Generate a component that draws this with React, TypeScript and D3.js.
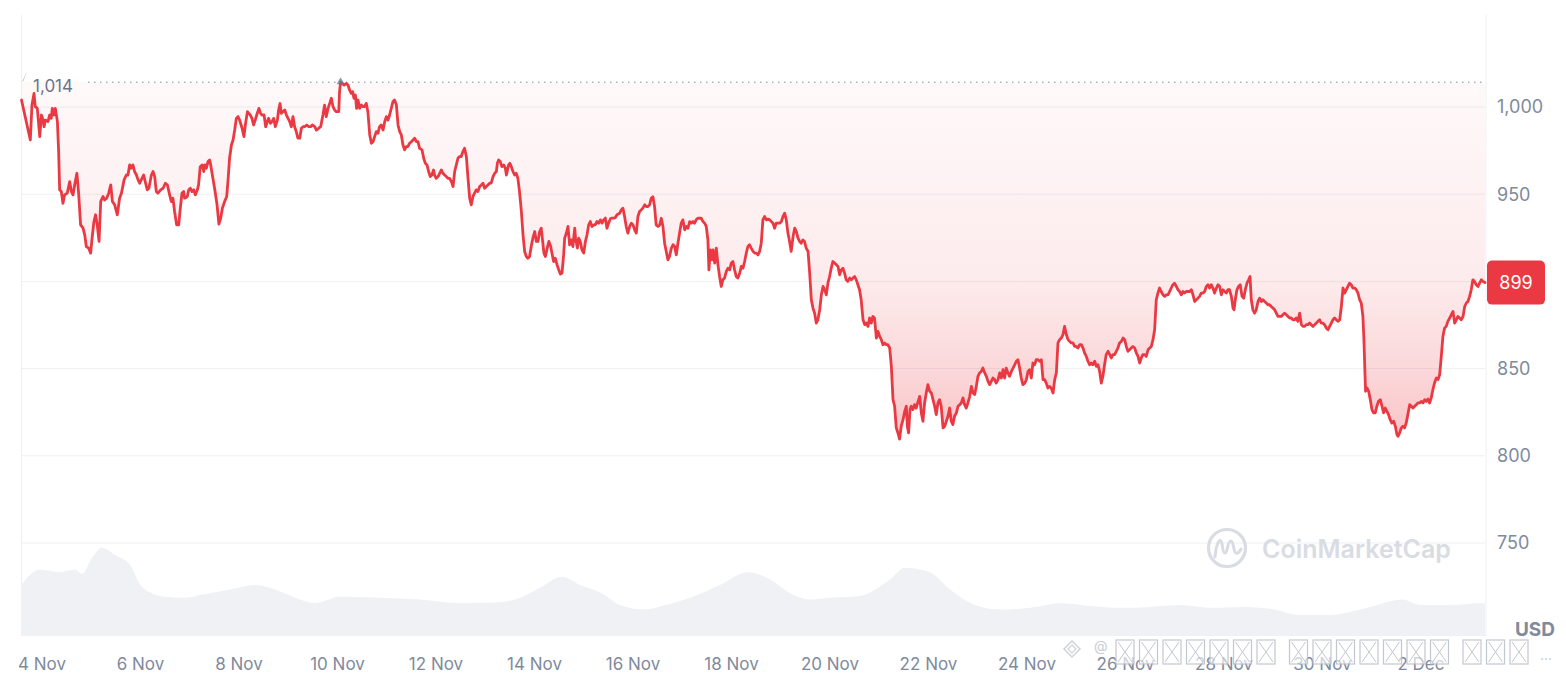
import React from 'react';
import * as d3 from 'd3';

// ---- data (hours since start, price in USD) ----
const START_MS = Date.UTC(2024, 10, 3, 14, 0);
const END_HOURS = 713.2;

const priceHours: number[] = [
  0, 4.3, 5.1, 6.1, 6.7, 7.7, 8.9, 9.7, 10.5, 11.0, 11.6, 12.9, 13.7, 14.5, 15.0, 15.8, 16.5, 17.5, 18.1, 18.6,
  19.4, 20.2, 21.0, 22.3, 23.5, 24.3, 25.1, 25.9, 27.0, 27.9, 28.8, 30.0, 30.8, 31.6, 32.7, 33.7, 34.4, 35.3, 36.1, 36.9,
  37.8, 38.6, 39.7, 40.5, 41.5, 42.5, 43.5, 44.3, 45.4, 46.7, 47.8, 48.7, 50.0, 51.1, 51.9, 52.7, 53.5, 54.3, 55.1, 56.0,
  56.8, 57.6, 58.7, 59.5, 60.3, 61.3, 62.1, 63.3, 64.1, 64.9, 65.7, 66.5, 67.8, 69.0, 70.1, 71.1, 72.2, 73.0, 73.8, 74.6,
  75.6, 76.6, 77.4, 78.2, 79.0, 79.5, 80.8, 81.5, 82.3, 83.1, 83.9, 84.7, 85.7, 86.3, 87.1, 88.0, 88.8, 89.3, 90.1, 90.9,
  91.7, 92.2, 93.0, 94.1, 95.3, 96.2, 97.1, 97.9, 99.0, 100.0, 100.6, 101.4, 102.3, 103.1, 103.9, 104.7, 105.5, 106.3, 107.5, 108.4,
  109.2, 110.1, 110.7, 111.5, 112.3, 113.1, 113.9, 114.9, 115.7, 116.5, 117.2, 118.2, 119.0, 119.8, 120.4, 121.3, 122.1, 122.9, 123.7, 124.7,
  125.3, 126.0, 126.6, 127.4, 128.3, 129.1, 129.9, 130.7, 131.5, 132.3, 133.1, 133.9, 134.7, 135.6, 136.4, 137.2, 138.0, 139.0, 140.0, 140.9,
  141.7, 142.9, 143.7,
  145.8, 146.9, 147.7, 148.5, 149.4, 150.2, 151.0, 151.8, 152.6, 153.4, 154.6, 155.0, 155.5, 156.2, 157.2, 158.3, 159.1, 159.9, 160.7, 161.4,
  162.0, 162.7, 163.3, 164.0, 164.8, 165.6, 166.4, 167.2, 168.0, 168.8, 169.7, 170.5, 171.3, 172.1, 172.9, 173.7, 174.5, 175.3, 176.2, 177.0,
  177.8, 178.6, 179.4, 180.2, 181.0, 181.8, 182.7, 183.5, 184.3, 185.1, 185.9, 186.7, 187.5, 188.3, 189.1, 190.0, 190.8, 191.6, 192.4, 193.2,
  194.0, 195.2, 196.0, 196.8, 197.6, 198.4, 199.2, 200.0, 200.8, 201.3, 202.1, 203.0, 203.8, 204.6, 205.4, 206.2, 207.0, 207.8, 208.6, 209.5,
  210.3, 211.1, 211.9, 212.7, 213.5, 214.3, 215.1, 215.9, 216.8, 217.6, 218.4, 219.2, 220.0, 220.8, 221.6, 222.4, 223.3, 224.1, 224.9, 225.7,
  226.5, 227.3, 228.1, 228.9, 229.8, 230.6, 231.4, 231.9, 232.5, 233.3, 234.1, 235.0, 235.8, 236.3, 236.7, 237.4, 238.0, 238.7, 239.5, 240.3,
  241.1, 241.9, 242.7, 243.6, 244.4, 245.2, 246.0, 246.8, 247.6, 248.4, 249.2, 250.1, 250.9, 251.7, 252.5, 253.3, 253.8, 254.6, 255.3, 256.2,
  257.0, 257.9, 258.5, 259.3, 260.1, 261.0, 261.8, 262.6, 263.4, 264.2, 264.7, 265.5, 266.3, 267.1, 267.9, 268.7, 269.6, 270.0, 270.9, 271.5,
  272.3, 273.1, 274.0, 274.8, 275.6, 276.4, 277.2, 278.0, 278.8, 279.6, 280.4, 281.3, 282.1, 282.9, 283.7, 284.5, 285.3, 286.1, 287.0, 287.7,
  288.6, 289.4, 290.2,
  291.5, 292.3, 293.1, 293.9, 294.7, 295.5, 296.4, 297.2, 298.0, 298.8, 299.6, 300.4, 301.2, 302.0, 302.8, 303.7, 304.5, 305.3, 306.1, 306.9,
  307.7, 308.5, 309.3, 310.2, 311.0, 311.8, 312.6, 313.4, 314.2, 315.0, 315.8, 316.7, 317.5, 318.3, 319.1, 319.9, 320.7, 321.5, 322.3, 323.2,
  324.0, 324.8, 325.6, 326.4, 327.2, 328.0, 328.8, 329.6, 330.5, 331.3, 332.1, 332.9, 333.7, 334.5, 335.0, 335.7, 336.5, 337.0, 337.8, 338.6,
  339.4, 340.2, 341.0, 341.8, 342.6, 343.5, 344.3, 345.1, 345.9, 346.7, 347.5, 348.3, 349.1, 350.0, 350.8, 351.6, 352.4, 353.2, 354.0, 354.8,
  355.6, 356.5, 357.3, 358.1, 358.9, 359.7, 360.5, 361.3, 362.1, 363.0, 363.8, 364.6, 365.4, 366.2, 367.0, 367.8, 368.6, 369.5, 370.3, 371.1,
  371.9, 372.7, 373.5, 374.3, 375.1, 376.0, 376.8, 377.6, 378.4, 379.2, 380.0, 380.8, 381.6, 382.4, 383.3, 384.1, 384.9, 385.7, 386.5, 387.3,
  388.1, 389.0, 389.8, 390.6, 391.4, 392.2, 393.0, 393.8, 394.6, 395.4, 396.3, 397.1, 397.9, 398.7, 399.5, 400.3, 401.1, 401.9, 402.7, 403.6,
  404.4, 405.2, 406.0, 406.8, 407.6, 408.4, 409.2, 410.1, 410.9, 411.7, 412.5, 413.3, 414.1, 414.9, 415.7, 416.6, 417.4, 418.2, 419.0, 419.8,
  420.6, 421.4, 422.2, 423.1, 423.9, 424.7, 425.5, 426.3, 427.1, 427.9, 428.7, 429.6, 430.4, 431.2, 431.7, 432.3, 433.0, 433.6, 434.4, 435.2,
  436.0,
  437.7, 438.5, 439.3, 440.1, 440.9, 441.7, 442.6, 443.4, 444.2, 445.0, 445.8, 446.6, 447.4, 448.2, 449.1, 449.9, 450.7, 451.5, 452.3, 453.1,
  453.9, 454.7, 455.6, 456.4, 457.2, 458.0, 458.8, 459.6, 460.4, 461.2, 462.1, 462.9, 463.7, 464.5, 465.3, 466.1, 466.9, 467.7, 468.5, 469.4,
  470.2, 471.0, 471.8, 472.6, 473.4, 474.2, 475.0, 475.9, 476.7, 477.5, 478.3, 479.1, 479.9, 480.7, 481.5, 482.4, 483.2, 484.0, 484.8, 485.6,
  486.4, 487.2, 488.0, 488.9, 489.7, 490.5, 491.3, 492.1, 492.9, 493.7, 494.5, 495.3, 496.2, 497.0, 497.8, 498.6, 499.4, 500.2, 501.0, 501.8,
  502.7, 503.5, 504.3, 505.1, 505.9, 506.7, 507.5, 508.3, 509.2, 510.0, 510.8, 511.6, 512.4, 513.2, 514.0, 514.8, 515.7, 516.5, 517.3, 518.1,
  518.9, 519.7, 520.5, 521.3, 522.1, 523.0, 523.8, 524.6, 525.4, 526.2, 527.0, 527.8, 528.6, 529.5, 530.3, 531.1, 531.9, 532.7, 533.5, 534.3,
  535.1, 536.0, 536.8, 537.6, 538.4, 539.2, 540.0, 540.8, 541.6, 542.5, 543.3, 544.1, 544.9, 545.7, 546.5, 547.3, 548.1, 549.0, 549.8, 550.6,
  551.4, 552.2, 553.0, 553.8, 554.6, 555.4, 556.3, 557.1, 557.9, 558.7, 559.5, 560.3, 561.1, 561.9, 562.8, 563.6, 564.4, 565.2, 566.0, 566.8,
  567.6, 568.4, 569.3, 570.1, 570.9, 571.7, 572.5, 573.3, 574.1, 574.9, 575.8, 576.6, 577.4, 578.2, 579.0, 579.8, 580.6, 581.4, 582.3, 583.1,
  583.9, 584.7, 585.5, 586.3, 587.1, 587.9, 588.7, 589.6, 590.4, 590.9, 591.5, 592.3, 593.1, 593.9, 594.8, 595.6, 596.4, 597.2, 598.0, 598.7,
  599.3, 600.1, 600.9, 601.7, 602.6, 603.4, 604.2, 605.0, 605.8, 606.6, 607.4, 608.2, 609.0, 609.9, 610.7, 611.5, 612.3, 613.1, 613.9, 614.7,
  615.5, 616.4, 617.2, 618.0, 618.8, 619.6, 620.4, 621.2, 622.0, 622.9, 623.7, 624.5, 625.3, 626.1, 626.9, 627.7, 628.5, 629.4, 630.2, 631.0,
  631.8, 632.6, 633.4, 634.2, 635.0, 635.9, 636.7, 637.5, 638.3, 639.1, 639.9, 640.7, 641.5, 642.4, 643.2, 644.0, 644.8, 645.6, 646.4, 647.2,
  648.0, 648.8, 649.7, 650.5, 651.3, 652.1, 652.9, 653.7, 654.2, 654.7, 655.0, 655.7, 656.5, 657.3, 658.1, 658.9, 659.7, 660.5, 661.3, 662.2,
  663.0, 663.8, 664.6, 665.4, 666.2, 667.0, 667.8, 668.7, 669.5, 670.3, 670.8, 671.6, 672.4, 673.2, 674.0, 674.8, 675.6, 676.5, 677.3, 678.1,
  678.9, 679.7, 680.5, 681.3, 682.1, 683.0, 683.8, 684.6, 685.4, 686.2, 687.0, 687.8, 688.6, 689.5, 690.3, 691.1, 691.9, 692.7, 693.5, 694.3,
  695.1, 696.0, 696.8, 697.6, 698.4, 699.2, 700.0, 700.8, 701.6, 702.5, 703.3, 704.1, 704.9, 705.7, 706.5, 707.3, 708.1, 708.9, 709.8, 710.6,
  711.4, 712.2, 713.2,
];

const priceValues: number[] = [
  1004, 981.1, 1001.1, 1007.8, 1000.2, 999.2, 983.0, 995.4, 992.5, 988.7, 992.5, 991.6, 995.4, 993.5, 999.2, 995.4, 999.2, 991.6, 974.4, 952.5,
  951.5, 944.8, 949.6, 950.6, 957.2, 951.5, 949.6, 955.3, 962.0, 949.6, 932.4, 930.5, 926.7, 920.0, 919.1, 916.2, 924.8, 934.3, 938.2, 932.4,
  922.9, 945.8, 948.7, 946.7, 947.7, 950.6, 955.3, 945.8, 943.9, 938.2, 947.7, 950.6, 958.2, 961.0, 961.0, 966.8, 964.9, 966.8, 963.0, 961.0,
  958.2, 956.3, 959.1, 961.0, 957.2, 952.5, 953.4, 961.0, 963.0, 960.1, 951.5, 950.6, 952.5, 953.4, 956.3, 955.3, 949.6, 945.8, 947.7, 940.1,
  932.4, 932.4, 942.0, 950.6, 951.5, 947.7, 948.7, 952.5, 953.4, 951.5, 952.5, 949.6, 952.5, 955.3, 965.8, 966.8, 963.0, 966.8, 964.9, 968.7,
  969.6, 966.8, 961.0, 953.4, 943.9, 932.8, 936.3, 942.0, 945.8, 948.7, 957.2, 970.6, 978.2, 981.1, 986.8, 993.5, 994.5, 992.5, 987.8, 983.0,
  990.6, 997.3, 996.4, 995.4, 993.5, 989.7, 992.5, 996.4, 999.2, 996.4, 995.4, 995.4, 988.7, 991.6, 993.5, 990.6, 991.6, 993.5, 988.7, 992.5,
  998.3, 1002.0, 996.4, 997.3, 998.3, 995.4, 993.5, 991.6, 988.7, 994.5, 988.7, 985.9, 982.1, 982.1, 987.8, 988.7, 988.7, 989.7, 988.7, 988.7,
  989.7, 988.7, 986.8,
  988.7, 995.4, 1001.1, 994.5, 999.2, 1002.1, 1005.0, 1000.2, 998.3, 997.3, 997.3, 1008.8, 1014.2, 1013.5, 1012.6, 1013.5, 1012.6, 1009.7, 1007.8, 1008.8,
  1005.0, 1006.9, 999.2, 1004.0, 999.2, 1001.1, 1000.2, 1000.2, 1002.1, 997.3, 984.0, 979.2, 980.1, 983.0, 985.9, 984.9, 988.7, 989.7, 986.8, 991.6,
  994.5, 992.5, 995.4, 999.2, 1003.0, 1004.0, 1001.1, 989.7, 985.9, 984.0, 978.2, 975.4, 977.3, 977.3, 979.2, 980.1, 981.1, 982.1, 980.1, 980.1,
  976.3, 975.4, 970.6, 967.7, 966.8, 963.0, 960.1, 961.0, 963.9, 961.0, 959.1, 960.1, 962.0, 963.9, 962.0, 961.0, 960.1, 959.1, 959.1, 957.2,
  954.4, 963.0, 966.8, 970.6, 971.6, 971.6, 974.4, 976.3, 971.6, 959.1, 947.7, 943.9, 948.7, 950.6, 952.5, 951.5, 954.4, 955.3, 956.3, 953.4,
  954.4, 955.3, 956.3, 956.3, 960.1, 962.0, 963.0, 967.7, 969.6, 968.7, 965.8, 966.8, 964.9, 961.0, 963.0, 966.8, 967.7, 965.8, 963.0, 961.0,
  962.0, 959.1, 951.5, 940.1, 926.7, 917.1, 914.3, 913.3, 914.3, 920.0, 924.8, 928.6, 922.9, 922.9, 928.6, 930.5, 924.8, 916.2, 914.3, 919.1,
  922.9, 920.0, 916.2, 911.4, 913.3, 909.5, 906.7, 904.2, 904.8, 915.2, 924.8, 927.6, 931.5, 921.0, 923.8, 920.0, 930.5, 924.8, 919.1, 924.8,
  922.9, 918.1, 916.2, 922.9, 926.7, 932.4, 934.3, 931.5, 932.4, 932.4, 934.3, 933.4, 935.3, 933.4, 935.3, 936.3, 930.5, 933.4, 935.9, 936.3,
  936.3, 936.6, 938.2,
  939.1, 941.0, 942.0, 937.2, 931.5, 927.7, 931.5, 933.4, 932.4, 929.6, 927.7, 937.2, 940.1, 941.0, 942.0, 943.9, 942.9, 942.9, 943.9, 947.7,
  948.6, 942.9, 932.4, 931.5, 932.4, 936.2, 931.5, 921.9, 917.2, 912.4, 914.3, 919.1, 921.0, 920.0, 915.2, 921.9, 927.7, 933.4, 935.3, 929.6,
  931.5, 930.5, 934.3, 933.4, 934.3, 933.4, 935.3, 936.2, 936.2, 936.2, 934.3, 933.4, 931.5, 923.8, 906.6, 918.1, 912.4, 918.1, 910.5, 919.1,
  909.5, 902.8, 897.1, 900.9, 901.9, 905.7, 907.6, 906.6, 910.5, 911.4, 906.6, 902.8, 901.9, 904.7, 908.6, 907.6, 911.4, 916.2, 920.0, 921.0,
  919.1, 917.2, 916.2, 916.2, 915.2, 917.2, 921.9, 935.3, 937.2, 935.3, 935.7, 935.3, 934.3, 933.4, 930.5, 933.4, 933.4, 933.4, 934.3, 937.2,
  939.1, 935.3, 927.7, 922.9, 917.2, 925.7, 930.5, 928.6, 924.8, 922.9, 921.9, 923.8, 922.9, 919.1, 917.2, 904.7, 889.5, 884.7, 881.8, 876.1,
  878.0, 883.8, 892.3, 897.1, 895.2, 892.3, 899.0, 902.8, 907.6, 911.4, 910.5, 909.5, 908.6, 903.8, 906.6, 907.6, 904.7, 900.9, 900.0, 901.9,
  900.9, 901.9, 902.8, 900.9, 898.1, 895.2, 889.5, 878.0, 875.2, 876.1, 874.2, 879.0, 876.1, 879.9, 879.0, 867.5, 871.3, 868.5, 866.6, 863.7,
  864.7, 863.7, 863.7, 861.8, 851.3, 832.2, 828.4, 816.0, 813.1, 809.6, 816.9, 820.7, 825.5, 828.4, 816.9, 813.1, 826.5, 828.4, 826.5, 829.3,
  827.4,
  834.1, 824.6, 819.8, 830.3, 836.0, 840.8, 837.0, 836.0, 832.2, 828.4, 823.6, 830.3, 832.2, 828.4, 816.0, 816.9, 819.8, 822.7, 827.4, 819.8,
  817.9, 822.7, 824.6, 828.4, 829.3, 830.3, 833.2, 829.3, 827.4, 830.3, 834.1, 839.8, 836.0, 835.1, 839.8, 845.6, 847.5, 848.4, 850.3, 847.5,
  845.6, 842.7, 840.8, 842.7, 844.6, 843.7, 841.7, 843.7, 847.5, 844.6, 849.4, 844.6, 850.3, 847.5, 845.6, 848.4, 850.3, 852.2, 854.2, 855.1,
  850.3, 844.6, 840.8, 841.7, 843.7, 848.4, 849.4, 844.6, 853.2, 852.2, 855.1, 855.1, 854.2, 855.1, 843.7, 843.7, 841.7, 838.9, 839.8, 838.9,
  836.0, 843.7, 847.5, 864.7, 866.6, 867.5, 869.4, 874.2, 869.4, 866.6, 865.6, 864.7, 864.7, 862.7, 862.7, 861.8, 863.7, 863.7, 861.8, 858.9,
  857.0, 854.2, 852.2, 853.2, 852.2, 854.2, 851.3, 852.2, 848.4, 841.7, 845.6, 852.2, 858.0, 859.9, 858.0, 856.1, 858.0, 858.0, 859.9, 861.8,
  864.7, 865.6, 867.5, 866.6, 862.7, 859.9, 860.8, 861.8, 862.7, 861.8, 858.9, 857.0, 853.2, 856.1, 858.0, 858.0, 857.0, 860.8, 861.8, 862.7,
  866.6, 872.3, 889.5, 893.3, 896.2, 894.2, 892.3, 891.4, 892.3, 892.3, 894.2, 896.2, 898.1, 899.0, 897.1, 895.2, 894.2, 892.3, 894.2, 893.3,
  894.2, 894.2, 894.2, 895.2, 892.3, 888.5, 889.5, 890.4, 891.4, 893.3, 893.3, 894.2, 897.1, 898.1, 896.2, 898.1, 896.2, 893.3, 896.2, 898.1,
  897.1, 892.3, 895.2, 894.2, 893.3, 895.2, 895.2, 891.4, 884.7, 883.7, 889.5, 895.2, 897.1, 898.1, 891.4, 890.4, 895.2, 899.0, 900.9, 902.8,
  889.5, 883.7, 881.8, 883.7, 888.5, 890.4, 888.5, 889.5, 888.5, 887.6, 886.6, 886.6, 885.6, 884.7, 883.7, 881.8, 879.9, 879.9, 879.9, 880.9,
  881.8, 880.9, 879.9, 879.0, 879.0, 878.0, 878.0, 879.0, 877.1, 881.8, 875.2, 874.2, 874.2, 875.2, 875.2, 876.1, 875.2, 874.2, 875.2, 876.1,
  877.1, 878.0, 876.1, 876.1, 875.2, 873.2, 872.3, 874.2, 876.1, 878.0, 879.0, 878.0, 877.1, 878.0, 885.6, 896.2, 893.3, 895.2, 897.1, 899.0,
  898.1, 896.2, 896.2, 895.2, 893.3, 889.5, 887.6, 879.9, 866.6, 847.5, 837.0, 838.9, 837.0, 832.2, 826.5, 824.6, 824.6, 828.4, 831.2, 832.2,
  828.4, 824.6, 827.4, 825.5, 823.6, 820.7, 818.8, 819.8, 816.9, 812.2, 811.2, 813.1, 816.0, 816.9, 816.0, 818.8, 823.6, 829.3, 828.4, 827.4,
  828.4, 829.3, 830.3, 830.3, 831.2, 830.3, 832.2, 831.2, 832.6, 830.3, 833.2, 837.9, 841.7, 844.6, 843.7, 846.5, 857.0, 868.5, 873.2, 874.2,
  877.1, 879.0, 880.9, 882.8, 876.1, 878.0, 879.9, 879.0, 878.0, 879.9, 885.6, 887.6, 888.5, 891.4, 895.2, 900.9, 899.9, 898.1, 897.1, 899.0,
  900.9, 899.9, 899.3,
];

// trading volume (relative units, estimated from the shaded band)
const volumeHours: number[] = [
  0, 4.1, 9.0, 18.8, 26.1, 29.5, 34.4, 39.2, 45.6, 52.9, 57.7, 62.6, 69.9, 79.7, 87.0, 101.6, 113.8, 123.5, 135.7, 143.0,
  155.2, 174.7, 194.2, 213.7, 233.2, 242.9, 252.7, 263.4, 272.2, 281.9, 291.7, 303.8, 313.6, 325.8, 340.4, 354.0, 364.8, 374.5, 384.3, 394.0,
  408.6, 423.2, 430.6, 442.7, 452.5, 464.7, 476.9, 491.5, 506.1, 520.7, 535.4, 550.0, 564.6, 579.2, 593.8, 608.4, 623.1, 637.7, 652.3, 662.1,
  672.8, 681.6, 696.2, 710.8, 713.2,
];
const volumeValues: number[] = [
  56, 67, 73, 70, 73, 68, 86, 97, 89, 78, 57, 48, 43, 42, 45, 51, 56, 51, 40, 36,
  43, 42, 40, 36, 37, 42, 53, 65, 56, 48, 34, 29, 34, 42, 56, 70, 62, 47, 40, 42,
  44, 62, 75, 70, 51, 34, 29, 31, 36, 33, 31, 32, 34, 31, 32, 30, 23, 23, 29, 35,
  40, 34, 34, 36, 36,
];

const yTicks: number[] = [750, 800, 850, 900, 950, 1000];
const xTickDays: [number, number][] = [
  [10, 4], [10, 6], [10, 8], [10, 10], [10, 12], [10, 14], [10, 16], [10, 18],
  [10, 20], [10, 22], [10, 24], [10, 26], [10, 28], [10, 30], [11, 2],
];

const RED = '#ea3943';
const AXIS_TEXT = '#808a9d';
const GRID = '#eef0f3';
const FONT = "Inter, 'Noto Sans', 'DejaVu Sans', sans-serif";

export default function App() {
  const W = 1566;
  const H = 676;
  const left = 21.5;
  const right = 1485;
  const bottom = 636;
  const top = 15;

  const hourMs = 3600 * 1000;
  const x = d3
    .scaleUtc()
    .domain([new Date(START_MS), new Date(START_MS + END_HOURS * hourMs)])
    .range([left, right]);
  const y = d3.scaleLinear().domain([750, 1000]).range([543, 107]);
  const yVol = d3.scaleLinear().domain([0, 100]).range([bottom, 545]);

  const prices = priceHours.map((h, i) => ({ t: new Date(START_MS + h * hourMs), v: priceValues[i] }));
  const vols = volumeHours.map((h, i) => ({ t: new Date(START_MS + h * hourMs), v: volumeValues[i] }));

  const maxP = prices.reduce((a, b) => (b.v > a.v ? b : a), prices[0]);
  const last = prices[prices.length - 1];
  const fmt = d3.format(',.0f');

  const line = d3
    .line<{ t: Date; v: number }>()
    .x((d) => x(d.t))
    .y((d) => y(d.v));
  const area = d3
    .area<{ t: Date; v: number }>()
    .x((d) => x(d.t))
    .y0(y(maxP.v))
    .y1((d) => y(d.v));
  const volArea = d3
    .area<{ t: Date; v: number }>()
    .x((d) => x(d.t))
    .y0(bottom)
    .y1((d) => yVol(d.v))
    .curve(d3.curveMonotoneX);

  const xTicks = xTickDays.map(([m, d]) => new Date(Date.UTC(2024, m, d)));
  const tickFmt = d3.utcFormat('%-d %b');

  const maxY = y(maxP.v);

  // watermark tofu boxes
  const boxGroups = [7, 7, 3];
  const boxes: { bx: number }[] = [];
  let bx = 1116;
  boxGroups.forEach((n, gi) => {
    for (let i = 0; i < n; i++) {
      boxes.push({ bx });
      bx += 23.5;
    }
    bx += gi < boxGroups.length - 1 ? 9 : 0;
  });

  return (
    <svg
      width={W}
      height={H}
      style={{ position: 'absolute', left: 0, top: 0, background: '#fff', fontFamily: FONT }}
    >
      <defs>
        <linearGradient id="redFill" gradientUnits="userSpaceOnUse" x1="0" y1={maxY} x2="0" y2={y(808)}>
          <stop offset="0" stopColor={RED} stopOpacity={0.03} />
          <stop offset="0.55" stopColor={RED} stopOpacity={0.1} />
          <stop offset="0.8" stopColor={RED} stopOpacity={0.2} />
          <stop offset="1" stopColor={RED} stopOpacity={0.3} />
        </linearGradient>
      </defs>

      {/* frame lines */}
      <line x1={left} x2={left} y1={top} y2={bottom} stroke={GRID} strokeWidth={1} />
      <line x1={right + 1} x2={right + 1} y1={top} y2={bottom} stroke={GRID} strokeWidth={1} />

      {/* grid */}
      {yTicks.map((t) => (
        <line key={t} x1={left} x2={right} y1={y(t)} y2={y(t)} stroke={GRID} strokeWidth={1} />
      ))}

      {/* volume */}
      <path d={volArea(vols) || ''} fill="#eff1f4" />

      {/* CoinMarketCap watermark */}
      <g opacity={0.9}>
        <circle cx={1227} cy={548} r={18.5} fill="none" stroke="#d5d9e0" strokeWidth={3.2} />
        <path
          d="M1215,557 C1216,545 1219,539 1221,541 C1223,543 1222,553 1225,553 C1228,553 1227,541 1231,541 C1234,541 1233,552 1236,553 C1238,554 1240,551 1241,549"
          fill="none"
          stroke="#d5d9e0"
          strokeWidth={3}
          strokeLinecap="round"
        />
        <text x={1262} y={558} fontSize={25} fontWeight={600} fill="#d5d9e0">
          CoinMarketCap
        </text>
      </g>

      {/* price area + line */}
      <path d={area(prices) || ''} fill="url(#redFill)" />
      <line
        x1={88}
        x2={right}
        y1={maxY}
        y2={maxY}
        stroke="#a6b0c3"
        strokeWidth={1.5}
        strokeDasharray="1.5 4.5"
      />
      <path d={line(prices) || ''} fill="none" stroke={RED} strokeWidth={2.8} strokeLinejoin="round" strokeLinecap="round" />

      {/* markers */}
      <path
        d={`M${x(maxP.t) - 4},${maxY + 2} L${x(maxP.t)},${maxY - 5} L${x(maxP.t) + 4},${maxY + 2} Z`}
        fill="#6b7489"
        opacity={0.75}
      />
      <path d={`M${left + 0.5},${maxY + 0} L${left + 6},${maxY - 12} L${left + 2},${maxY - 2} Z`} fill="#6b7489" opacity={0.7} />

      {/* high label */}
      <text x={33} y={maxY + 10} fontSize={17} fill="#6b7489">
        {fmt(maxP.v)}
      </text>

      {/* y axis labels */}
      {yTicks.map((t) => (
        <text key={t} x={1497} y={y(t)} dy="0.35em" fontSize={18} fill={AXIS_TEXT}>
          {fmt(t)}
        </text>
      ))}
      <text x={1555} y={636} textAnchor="end" fontSize={19} fontWeight={700} fill={AXIS_TEXT}>
        USD
      </text>

      {/* current price tag */}
      <rect x={1487} y={y(last.v) - 22} width={58} height={44} rx={5} fill={RED} />
      <text x={1516} y={y(last.v)} dy="0.36em" textAnchor="middle" fontSize={18} fill="#fff">
        {fmt(last.v)}
      </text>

      {/* x axis labels */}
      {xTicks.map((t) => (
        <text key={t.toISOString()} x={x(t)} y={670} textAnchor="middle" fontSize={17} fill={AXIS_TEXT}>
          {tickFmt(t)}
        </text>
      ))}

      {/* overlay watermark (tofu glyphs) */}
      <g opacity={0.85}>
        <path d="M1072,641 L1080,649 L1072,657 L1064,649 Z" fill="none" stroke="#c7ccd4" strokeWidth={1.5} />
        <path d="M1072,645 L1076,649 L1072,653 L1068,649 Z" fill="none" stroke="#c7ccd4" strokeWidth={1.2} />
        <text x={1094} y={651} fontSize={14} fill="#c0c5cd">
          @
        </text>
        {boxes.map((b, i) => (
          <g key={i}>
            <rect x={b.bx} y={640} width={18} height={24} fill="#fff" fillOpacity={0.75} stroke="#b9bec7" strokeWidth={1.2} />
            <path
              d={`M${b.bx + 2},${642} L${b.bx + 16},${662} M${b.bx + 16},${642} L${b.bx + 2},${662}`}
              stroke="#b9bec7"
              strokeWidth={1}
            />
          </g>
        ))}
        <text x={1540} y={660} fontSize={14} fill="#b9bec7">
          ...
        </text>
      </g>
    </svg>
  );
}
